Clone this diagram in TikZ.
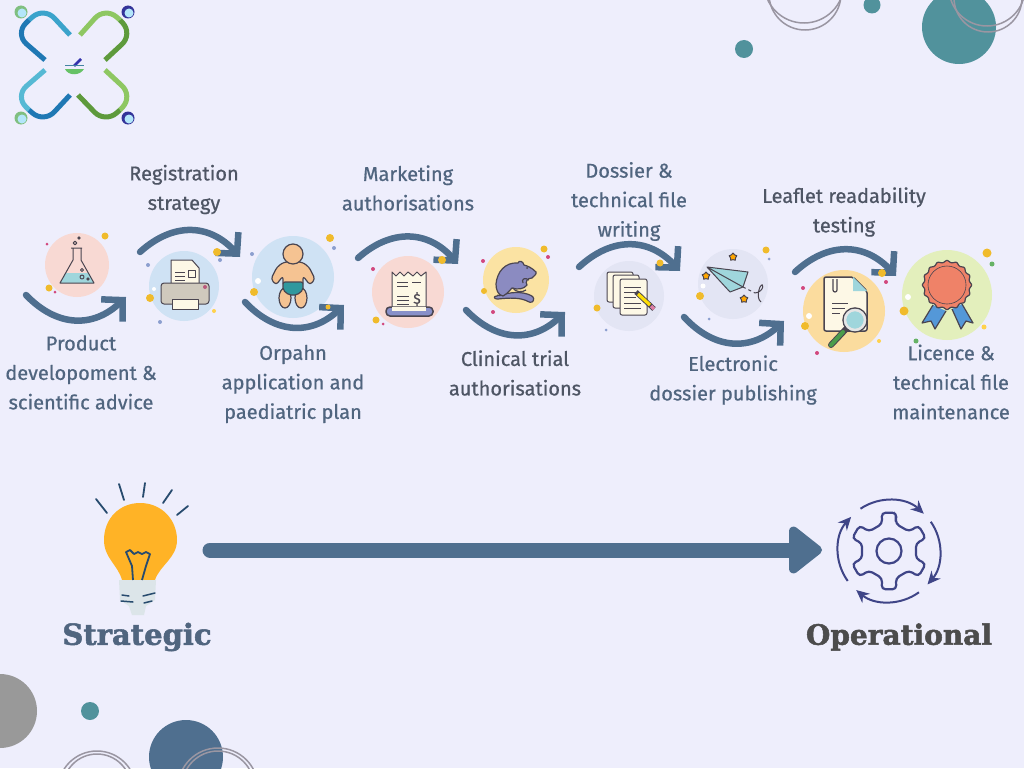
\documentclass[tikz,border=0pt]{standalone}
\usepackage{fontspec}
\usetikzlibrary{arrows.meta,shapes.geometric}
\newfontfamily\stepfont{Fira Sans}[FakeBold=0.7]
\newfontfamily\headfont{DejaVu Serif}[FakeBold=1.8]
\definecolor{pagebg}{HTML}{EEEEFC}
\definecolor{steel}{HTML}{4F6F8F}
\definecolor{slate}{HTML}{50657F}
\definecolor{inkdark}{HTML}{4E5564}
\definecolor{teal}{HTML}{51929C}
\definecolor{ringgray}{HTML}{9A96A2}
\definecolor{spotyellow}{HTML}{F0BB2C}
\definecolor{spotpink}{HTML}{D2487E}
\definecolor{spotblue}{HTML}{8C9FCF}
\definecolor{outline}{HTML}{4A4550}
\definecolor{gearblue}{HTML}{3F4587}
\definecolor{wirenavy}{HTML}{274B6E}
\definecolor{discpink}{HTML}{F8D9D3}
\definecolor{discblue}{HTML}{CFE2F4}
\definecolor{discyellow}{HTML}{FBE3A3}
\definecolor{discpale}{HTML}{E3E5F4}
\definecolor{discorange}{HTML}{FBDC9E}
\definecolor{discgreen}{HTML}{E3EFBC}
\definecolor{paper}{HTML}{FDF8E6}
\definecolor{skin}{HTML}{F5C392}
\definecolor{ice}{HTML}{9FD6DC}
\begin{document}
\begin{tikzpicture}[x=1pt, y=-1pt,
    disc/.style={circle, draw=none, inner sep=0pt},
    label/.style={align=center, text=slate, font=\stepfont\fontsize{20}{29.5}\selectfont, inner sep=0pt},
    darklabel/.style={label, text=inkdark},
    headword/.style={font=\headfont\bfseries\selectfont, inner sep=0pt},
    curved/.style={draw=steel, line width=6.5pt, line cap=round, looseness=1.15, -{Straight Barb[length=15pt,width=31pt,line cap=butt]}},
    ink/.style={draw=outline, line width=1pt, line join=round},
    ring/.style={draw=ringgray, line width=1.5pt}]
    \clip (0,0) rectangle (1024,768);
    \fill[pagebg] (0,0) rectangle (1024,768);

    % Corner decoration
    \fill[teal] (959,27) circle (37pt);
    \fill[teal] (872,5) circle (8.5pt);
    \fill[teal] (744,49) circle (9pt);
    \draw[ring] (804,-17) circle (40pt);
    \draw[ring] (805,-6) circle (36pt);
    \draw[ring] (987,-12) circle (38pt);
    \draw[ring] (988,-2) circle (34pt);
    \fill[black!40] (0,711) circle (37pt);
    \fill[teal] (90,711) circle (9pt);
    \fill[steel] (186,757) circle (37pt);
    \draw[ring] (97,790) circle (39pt);
    \draw[ring] (97,788) circle (34pt);
    \draw[ring] (218,788) circle (40pt);
    \draw[ring] (218,787) circle (36pt);

    % Logo
    \begin{scope}[line width=5pt, rounded corners=15pt]
        \draw[color={rgb,255:red,59;green,163;blue,203}] (70,35) -- (44,7) -- (29,20);
        \draw[color={rgb,255:red,31;green,120;blue,180}] (29,20) -- (15,34) -- (45,60);
        \draw[color={rgb,255:red,142;green,199;blue,98}] (80,35) -- (105,7) -- (120,20);
        \draw[color={rgb,255:red,94;green,154;blue,60}] (120,20) -- (133,34) -- (105,60);
        \draw[color={rgb,255:red,86;green,185;blue,212}] (45,70) -- (15,96) -- (29,110);
        \draw[color={rgb,255:red,31;green,120;blue,180}] (29,110) -- (44,123) -- (70,95);
        \draw[color={rgb,255:red,142;green,199;blue,98}] (105,70) -- (133,96) -- (120,110);
        \draw[color={rgb,255:red,94;green,154;blue,60}] (120,110) -- (105,123) -- (78,95);
    \end{scope}
    \foreach \x/\y/\c in {21/12/green!50!black!50, 128/12/blue!50!black!80, 21/118/green!50!black!50, 128/118/blue!50!black!80} {
        \fill[\c] (\x,\y) circle (6.5pt);
        \fill[cyan!30!white] (\x+1,\y+1) circle (4.5pt);
    }
    \fill[green!60!black!60] (65,69) .. controls (68,76) and (80,76) .. (84,69) -- cycle;
    \draw[line width=2.5pt, blue!60!black!80] (74,66) -- (81,59);
    \draw[line width=1pt, cyan!60!black] (65,65) -- (84,65);

    % Icon backgrounds
    \node (flask) [disc, fill=discpink, minimum size=64pt] at (77,265) {};
    \node (printer) [disc, fill=discblue, minimum size=70pt] at (184,286) {};
    \node (baby) [disc, fill=discblue, minimum size=82pt] at (293,277) {};
    \node (receipt) [disc, fill=discpink, minimum size=72pt] at (408,292) {};
    \node (rat) [disc, fill=discyellow, minimum size=66pt] at (516,280) {};
    \node (papers) [disc, fill=discpale, minimum size=70pt] at (629,296) {};
    \node (plane) [disc, fill=discpale, minimum size=70pt] at (733,284) {};
    \node (report) [disc, fill=discorange, minimum size=82pt] at (844,311) {};
    \node (medal) [disc, fill=discgreen, minimum size=90pt] at (947,295) {};

    % Curved arrows between the steps
    \coordinate (a1) at (26,295);  \coordinate (b1) at (126,297);
    \coordinate (a2) at (140,252); \coordinate (b2) at (240,257);
    \coordinate (a3) at (245,302); \coordinate (b3) at (344,305);
    \coordinate (a4) at (358,258); \coordinate (b4) at (458,264);
    \coordinate (a5) at (466,310); \coordinate (b5) at (565,312);
    \coordinate (a6) at (579,267); \coordinate (b6) at (680,271);
    \coordinate (a7) at (684,317); \coordinate (b7) at (784,321);
    \coordinate (a8) at (795,272); \coordinate (b8) at (896,276);
    \foreach \n in {1,3,5,7}
        \draw[curved] (a\n) to[bend right=45] (b\n);
    \foreach \n in {2,4,6,8}
        \draw[curved] (a\n) to[bend left=45] (b\n);

    % Small dots round the icons
    \foreach \x/\y/\r in {105/236/3.5,49/288/3.5,217/252/4,150/298/4,330/238/4,254/292/4,328/307/2.5,442/260/4,376/320/3.5,544/249/3.5,484/291/3,660/263/3.5,597/308/3.5,766/250/3.5,700/296/4,882/273/4,805/326/4,987/253/4.5,904/311/4.5}
        \fill[spotyellow] (\x,\y) circle (\r pt);
    \foreach \x/\y/\r in {47/244/1.5,55/292/1.5,373/269/2,383/324/1.5,548/257/2,483/261/2,493/312/2,886/282/2,803/288/2,817/353/2}
        \fill[spotpink] (\x,\y) circle (\r pt);
    \foreach \x/\y/\r in {220/260/2,148/265/2,160/322/2,334/248/2,252/254/2,606/330/1.5,769/259/1.5,709/319/1.5}
        \fill[spotblue] (\x,\y) circle (\r pt);
    \foreach \x/\y/\r in {992/264/2.5,916/341/2.5}
        \fill[green!50!black!60] (\x,\y) circle (\r pt);
    \foreach \x/\y/\r in {154/289/2,258/281/3,703/286/2.5,809/316/3,908/297/3}
        \fill[white] (\x,\y) circle (\r pt);
    \foreach \x/\y/\r in {214/311/2,879/341/2,984/327/2.5}
        \fill[orange!50!yellow!70] (\x,\y) circle (\r pt);

    % Flask
    \fill[ice] (65,273) -- (89,273) -- (94,283) -- (60,283) -- cycle;
    \draw[ink] (71,248) -- (82,248) (73,248) -- (73,260) -- (60,283) -- (94,283) -- (81,260) -- (81,248);
    \draw[ink] (75,243) circle (1.8pt) (79,238) circle (1.2pt) (82,277) circle (2pt) (82,270) circle (1.5pt) (88,279) circle (1.2pt);

    % Printer
    \draw[ink, fill=paper] (171,260) -- (192,260) -- (199,268) -- (199,290) -- (171,290) -- cycle;
    \draw[ink] (175,272) -- (185,272) (175,276) -- (185,276) (175,280) -- (185,280) (188,270) rectangle (195,277);
    \draw[ink, fill={rgb,255:red,207;green,201;blue,189}, rounded corners=3pt] (161,283) rectangle (209,304);
    \draw[ink, fill=paper] (172,299) rectangle (198,309);
    \fill[spotpink!70!gray] (205,287) circle (2pt);

    % Baby
    \begin{scope}[ink, line width=1.2pt, fill=skin]
        \filldraw (285,298) ellipse (6pt and 10pt);
        \filldraw (301,298) ellipse (6pt and 10pt);
        \filldraw[rounded corners=3pt] (284,262) -- (277,267) -- (271,279) -- (276,285) -- (283,276) -- (283,286) -- (303,286) -- (303,276) -- (310,285) -- (315,279) -- (309,267) -- (302,262) -- cycle;
        \filldraw (293,254) circle (10pt);
        \filldraw[fill=teal!70!cyan!85!black, rounded corners=2pt] (283,282) -- (303,282) -- (303,290) -- (297,295) -- (289,295) -- (283,290) -- cycle;
    \end{scope}

    % Receipt
    \draw[ink, fill=paper] (392,272) -- (396,276) -- (400,272) -- (404,276) -- (408,272) -- (413,276) -- (417,272) -- (421,276) -- (426,272) -- (426,313) -- (392,313) -- cycle;
    \draw[ink] (397,282) -- (408,282) (412,282) -- (421,282) (397,286) -- (408,286) (397,296) -- (409,296) (397,300) -- (409,300) (397,304) -- (409,304);
    \node (dollar) [text=outline, font=\stepfont\fontsize{14}{14}\selectfont, inner sep=0pt] at (417,299) {\$};
    \draw[ink, line width=1.5pt, fill=slate!70!blue!60!white, rounded corners=4pt] (386,307) rectangle (433,316);
    \fill[paper] (392,307) rectangle (426,311);

    % Rat
    \draw[ink, line width=1.2pt, fill=blue!30!gray!70!white, rounded corners=1pt] (498,296) .. controls (510,292) and (522,291) .. (532,296)
        .. controls (535,299) and (533,303) .. (529,302) .. controls (520,297) and (508,298) .. (498,299)
        .. controls (494,299) and (493,296) .. cycle;
    \draw[ink, line width=1.2pt, fill=blue!30!gray!70!white] (536,272) .. controls (532,268) and (528,266) .. (524,265)
        .. controls (523,261) and (519,260) .. (518,263) .. controls (505,262) and (497,272) .. (496,284)
        .. controls (496,290) and (498,295) .. (503,296) .. controls (507,294) and (510,290) .. (512,288)
        .. controls (518,290) and (524,289) .. (527,285) .. controls (525,282) and (527,278) .. (532,278)
        .. controls (534,276) and (537,274) .. cycle;
    \draw[ink, line width=1.2pt] (513,288) .. controls (515,292) and (522,293) .. (526,290) (523,283) .. controls (521,279) and (525,277) .. (529,280);
    \fill[outline] (527,268) circle (1pt);

    % Papers and pencil
    \draw[ink, fill=paper, rounded corners=2pt] (607,272) rectangle (633,302);
    \draw[ink, fill=paper, rounded corners=2pt] (613,275) rectangle (639,308);
    \draw[ink, fill=paper, rounded corners=2pt] (620,279) rectangle (647,315);
    \draw[ink] (624,287) -- (641,287) (624,292) -- (638,292) (624,297) -- (636,297) (624,303) -- (641,303) (624,308) -- (641,308);
    \draw[outline, line width=5pt] (636,292) -- (654,309);
    \draw[yellow!80!orange, line width=3.2pt] (638,294) -- (650,305);
    \draw[spotpink!70, line width=3.2pt] (651,306) -- (654,309);

    % Paper plane
    \fill[ice] (707,267) -- (748,272) -- (743,287) -- (730,292) -- cycle;
    \draw[ink] (707,267) -- (748,272) -- (743,287) -- (707,267) -- (730,292) -- (743,287);
    \draw[ink, dashed] (743,287) -- (755,293);
    \draw[ink] (755,293) .. controls (765,292) and (764,280) .. (760,287) .. controls (757,294) and (758,300) .. (761,302);
    \foreach \x/\y/\nm in {733/257/one, 706/276/two, 744/299/three}
        \node (star\nm) [star, star points=5, ink, fill=orange!70!yellow, inner sep=0pt, minimum size=8pt] at (\x,\y) {};

    % Document and magnifier
    \draw[ink, line width=1.5pt, fill=paper, rounded corners=2pt] (824,277) -- (853,277) -- (867,291) -- (867,331) -- (824,331) -- cycle;
    \fill[ice] (853,277) -- (867,291) -- (853,291) -- cycle;
    \draw[ink] (832,303) -- (848,303) (832,308) -- (845,308) (832,313) -- (840,313);
    \draw[ink, line width=1.2pt] (833,279) -- (833,290) arc[start angle=180,end angle=360,radius=2pt] -- (837,279);
    \draw[outline, line width=6pt, line cap=round] (847,328) -- (831,345);
    \draw[green!45!black!70, line width=4pt, line cap=round] (843,332) -- (831,345);
    \draw[outline, line width=1.5pt, fill=ice] (855,320) circle (12pt);
    \draw[black!10, line width=2.5pt] (855,320) circle (10pt);

    % Medal
    \fill[cyan!60!blue!70] (933,305) -- (922,323) -- (931,321) -- (935,329) -- (946,311) -- cycle;
    \fill[cyan!60!blue!70] (952,309) -- (961,329) -- (966,321) -- (973,323) -- (962,304) -- cycle;
    \draw[ink, line width=1.2pt] (933,305) -- (922,323) -- (931,321) -- (935,329) -- (946,311)
        (952,309) -- (961,329) -- (966,321) -- (973,323) -- (962,304);
    \node (seal) [star, star points=16, star point ratio=1.12, ink, line width=1.2pt, fill={rgb,255:red,239;green,130;blue,104}, inner sep=0pt, minimum size=50pt, rounded corners=1pt] at (947,285) {};
    \draw[outline, line width=0.6pt] (947,285) circle (19pt);

    % Step labels
    \node (develop) [label] at (81,372.5) {Product\\developoment \&\\scientific advice};
    \node (regstrat) [darklabel] at (184,189.5) {Registration\\strategy};
    \node (orphan) [label] at (293,384) {Orpahn\\application and\\paediatric plan};
    \node (market) [label] at (408,188) {Marketing\\authorisations};
    \node (clinical) [darklabel] at (515,373) {Clinical trial\\authorisations};
    \node (dossier) [label] at (629,201.5) {Dossier \&\\technical file\\writing};
    \node (publish) [label] at (733,380) {Electronic\\dossier publishing};
    \node (leaflet) [darklabel] at (844,212) {Leaflet readability\\testing};
    \node (licence) [label] at (951,382) {Licence \&\\technical file\\maintenance};

    % Bulb
    \fill[orange!70!yellow!85!white] (122,580) .. controls (118,565) and (104,558) .. (104,540)
        .. controls (104,518) and (120,503) .. (140,503) .. controls (162,503) and (177,520) .. (177,540)
        .. controls (177,558) and (160,565) .. (155,580) -- cycle;
    \fill[cyan!25!gray!25!white] (119,580) -- (156,580) -- (155,600) -- (146,606) -- (144,615) -- (132,615) -- (129,606) -- (120,600) -- cycle;
    \draw[wirenavy, line width=1.8pt, line join=round] (133,580) -- (132,566) -- (126,552) -- (130,550) -- (134,554) -- (138,552) -- (142,554) -- (146,552) -- (150,554) -- (146,566) -- (142,580);
    \draw[wirenavy, line width=1.8pt, line cap=round] (96,499) -- (107,513) (119,484) -- (124,500) (145,483) -- (143,497) (172,490) -- (163,503) (188,506) -- (177,515);
    \draw[wirenavy, line width=1.5pt, line cap=round] (122,595) -- (129,596) (143,596) -- (155,593) (121,601) -- (133,602) (144,603) -- (152,601);

    % Gear
    \coordinate (gear) at (889,551);
    \begin{scope}[shift={(gear)}]
        \draw[gearblue, line width=2.2pt, rounded corners=4pt] (76:28pt)
            \foreach \a in {90,150,210,270,330,30} { -- (\a-14:28pt) -- (\a-11:39pt) -- (\a+11:39pt) -- (\a+14:28pt) } -- cycle;
    \end{scope}
    \draw[gearblue, line width=2.2pt] (gear) circle (12.5pt);
    \begin{scope}[draw=gearblue, line width=2pt, -{Stealth[length=13pt,width=12pt]}]
        \draw ([shift={(124:51pt)}]gear) arc[start angle=124, end angle=47, radius=51pt];
        \draw ([shift={(35:51pt)}]gear) arc[start angle=35, end angle=-41, radius=51pt];
        \draw ([shift={(-54:51pt)}]gear) arc[start angle=-54, end angle=-130, radius=51pt];
        \draw ([shift={(216:51pt)}]gear) arc[start angle=216, end angle=138, radius=51pt];
    \end{scope}

    % Main arrow
    \coordinate (idea) at (210,550);
    \coordinate (gearleft) at (822,550);
    \draw[steel, line width=15pt, line cap=round, -{Triangle[length=36pt,width=54pt,round,line width=10pt]}] (idea) -- (gearleft);

    \node (strategic) [headword, text=slate, font=\headfont\bfseries\fontsize{29}{30}\selectfont] at (137,637) {Strategic};
    \node (operational) [headword, text=black!70, font=\headfont\bfseries\fontsize{28}{30}\selectfont] at (899,637) {Operational};
\end{tikzpicture}
\end{document}
